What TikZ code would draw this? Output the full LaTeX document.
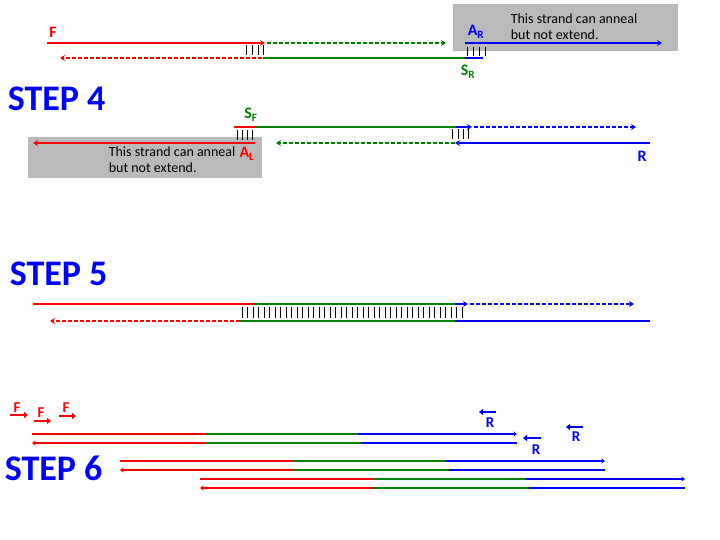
\documentclass[tikz,border=0pt]{standalone}
\usepackage{fontspec}
\setmainfont{Carlito}
\usetikzlibrary{arrows.meta}
\definecolor{rd}{RGB}{255,0,0}
\definecolor{gn}{RGB}{0,128,0}
\definecolor{bl}{RGB}{0,0,255}
\begin{document}
\begin{tikzpicture}[x=1pt,y=-1pt,line width=1.6pt,
  ar/.style={-{Stealth[length=5pt,width=6pt]}},
  ar2/.style={-{Stealth[length=3.5pt,width=5pt]},line width=1.1pt},
  dsh/.style={dash pattern=on 4pt off 2pt},
  tk/.style={line width=1pt,black},
  lab/.style={font=\bfseries\fontsize{16}{16}\selectfont,inner sep=0},
  slab/.style={font=\bfseries\fontsize{15}{15}\selectfont,inner sep=0},
  stp/.style={font=\bfseries\fontsize{36}{36}\selectfont,text=bl,anchor=west,inner sep=0},
  note/.style={font=\fontsize{14}{16}\selectfont,align=left,inner sep=0,anchor=west},
  box/.style={fill=black!27,draw=none}]
\useasboundingbox (0,0) rectangle (720,540);
% top
\fill[box] (453,4) rectangle (678,51);
\node[note] (n1) at (510,27) {This strand can anneal\\but not extend.};
\node[lab,text=rd] (F1) at (53,32) {F};
\draw[rd,ar] (47,43) -- (265,43);
\draw[gn,ar,dsh] (267,43) -- (446,43);
\draw[bl,ar] (465,43) -- (662,43);
\node[lab,text=bl] (AR) at (476,32) {A\textsubscript{R}};
\foreach \x in {246,252,258,263} \draw[tk] (\x,45) -- (\x,55);
\foreach \x in {467,473,479,485} \draw[tk] (\x,47) -- (\x,56);
\draw[rd,ar,dsh] (262,58) -- (60,58);
\draw[gn] (263,58) -- (465,58);
\draw[bl] (465,58) -- (483,58);
\node[lab,text=gn] (SR) at (468,72) {S\textsubscript{R}};
\node[stp] (s4) at (7,99) {STEP 4};
% step 4
\draw[rd] (234,127) -- (256,127);
\draw[gn] (256,127) -- (457,127);
\draw[bl,ar] (456,127) -- (472,127);
\draw[bl,ar,dsh] (474,127) -- (636,127);
\node[lab,text=gn] (SF) at (251,115) {S\textsubscript{F}};
\fill[box] (28,137) rectangle (262,178);
\node[note] (n2) at (108,160) {This strand can anneal\\but not extend.};
\draw[rd,ar] (255,143) -- (33,143);
\foreach \x in {237,242,247,252} \draw[tk] (\x,130) -- (\x,140);
\node[lab,text=rd] (AL) at (247,154) {A\textsubscript{L}};
\draw[gn,ar,dsh] (455,143) -- (276,143);
\draw[bl,ar] (650,143) -- (455,143);
\foreach \x in {452,458,463,468} \draw[tk] (\x,129) -- (\x,139);
\node[lab,text=bl] (R1) at (642,156) {R};
% step 5
\node[stp] (s5) at (9,274) {STEP 5};
\draw[rd] (33,304) -- (254,304);
\draw[gn] (254,304) -- (460,304);
\draw[bl,ar] (455,304) -- (468,304);
\draw[bl,ar,dsh] (470,304) -- (634,304);
\foreach \x in {242,247.5,...,464} \draw[tk] (\x,307) -- (\x,318);
\draw[rd,ar,dsh] (240,321) -- (50,321);
\draw[gn] (240,321) -- (455,321);
\draw[bl] (455,321) -- (650,321);
% step 6
\node[stp] (s6) at (4,468) {STEP 6};
\node[slab,text=rd] (f1) at (17,408) {F};
\draw[rd,-{Triangle[length=4pt,width=6pt]},line width=2pt] (10,415) -- (28,415);
\node[slab,text=rd] (f2) at (41,413) {F};
\draw[rd,-{Triangle[length=4pt,width=6pt]},line width=2pt] (34,421) -- (51,421);
\node[slab,text=rd] (f3) at (66,408) {F};
\draw[rd,-{Triangle[length=4pt,width=6pt]},line width=2pt] (59,416) -- (76,416);
\node[slab,text=bl] (r1) at (490,423) {R};
\draw[bl,-{Triangle[length=4pt,width=6pt]},line width=2pt] (496,412) -- (479,412);
\node[slab,text=bl] (r2) at (536,450) {R};
\draw[bl,-{Triangle[length=4pt,width=6pt]},line width=2pt] (541,438) -- (523,438);
\node[slab,text=bl] (r3) at (576,437) {R};
\draw[bl,-{Triangle[length=4pt,width=6pt]},line width=2pt] (583,427) -- (566,427);
\foreach \dx/\dy in {0/0, 88/27, 168/45}{
  \draw[rd] (32+\dx,434+\dy) -- (205+\dx,434+\dy);
  \draw[gn] (205+\dx,434+\dy) -- (358+\dx,434+\dy);
  \draw[bl,ar2] (358+\dx,434+\dy) -- (517+\dx,434+\dy);
  \draw[rd,ar2] (205+\dx,443+\dy) -- (32+\dx,443+\dy);
  \draw[gn] (205+\dx,443+\dy) -- (361+\dx,443+\dy);
  \draw[bl] (361+\dx,443+\dy) -- (517+\dx,443+\dy);
}
\end{tikzpicture}
\end{document}
